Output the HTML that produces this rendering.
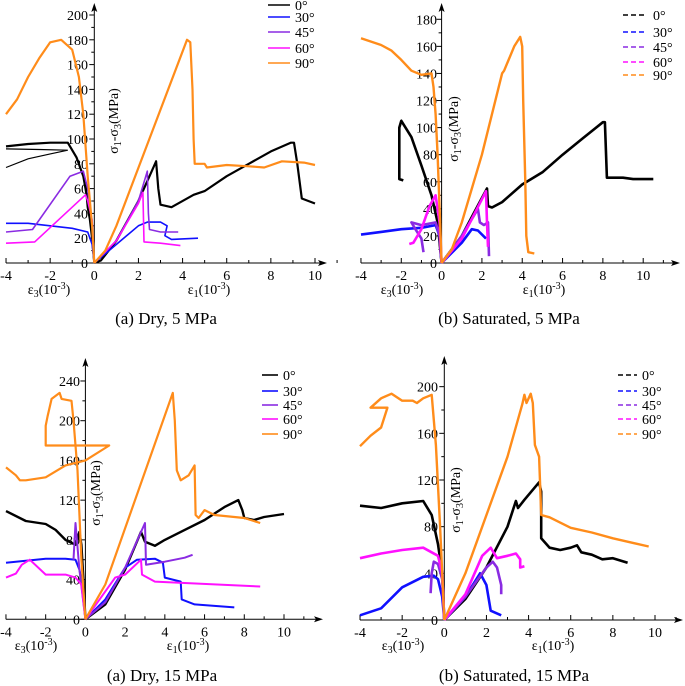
<!DOCTYPE html>
<html><head><meta charset="utf-8">
<style>
html,body{margin:0;padding:0;background:#fff;}
svg{display:block;font-family:"Liberation Serif",serif;}
</style></head>
<body>
<svg id="fig" width="685" height="686" viewBox="0 0 685 686" xmlns="http://www.w3.org/2000/svg"></svg>
<script>
// ---------- data (strain in 10^-3, stress in MPa) ----------
const angleLabels = ["0°","30°","45°","60°","90°"];
const colors = ["#000000","#1010ff","#8a2be2","#ff10ff","#ff8c1a"];
const xTicks = [-4,-2,0,2,4,6,8,10];
const yTicksA = [0,20,40,60,80,100,120,140,160,180,200];
const yTicksB = [0,20,40,60,80,100,120,140,160,180];
const yTicksC = [0,40,80,120,160,200,240];
const yTicksD = [0,40,80,120,160,200];

// Panel A: Dry 5 MPa
const aX0 = [0,0.3,1,2,2.7,2.8,2.9,3,3.5,4.5,5,6,7,8,8.9,9.05,9.2,9.4,10];
const aY0 = [0,2,18,50,78,82,60,47,45,55,58,70,80,90,97,97,80,52,48];
const aL0x = [0,-0.1,-0.2,-0.3,-0.35,-0.5,-0.8,-1.2,-2,-3,-4];
const aL0y = [0,20,35,45,55,70,85,97,97,96,94];
const aL0bx = [-4,-3,-2,-1.2,-2.5,-4];
const aL0by = [77,84,88,91,91.5,92];
const aX1 = [0,1,2,2.4,3,3.3,3.2,3.5,4.7];
const aY1 = [0,15,30,33,33,30,22,19,20];
const aL1x = [0,-0.1,-0.3,-1,-2,-3,-4];
const aL1y = [0,15,25,28,30,32,32];
const aX2 = [0,1,2,2.4,2.45,2.5,3,3.8];
const aY2 = [0,18,50,74,40,27,25,25];
const aL2x = [0,-0.1,-0.3,-0.5,-0.8,-1.1,-2.8,-4];
const aL2y = [0,30,60,74,72,70,27,25];
const aX3 = [0,1,2,2.2,2.25,3,3.9];
const aY3 = [0,18,48,57,17,16,14];
const aL3x = [0,-0.1,-0.3,-0.4,-2.7,-4];
const aL3y = [0,35,50,55,17,16];
const aX4 = [0,0.5,1,4.2,4.35,4.45,4.5,4.55,5,5.1,6,7,7.7,8.5,9.5,10];
const aY4 = [0,10,30,180,178,140,100,80,80,77,79,78,77,82,81,79];
const aL4x = [0,-0.1,-0.3,-0.5,-0.7,-1,-1.5,-2,-2.5,-3,-3.5,-4];
const aL4y = [0,30,70,120,150,172,180,178,165,150,132,120];

// Panel B: Saturated 5 MPa
const bX0 = [0,1,2,2.25,2.3,2.5,3,4,5,6,7,8,8.1,8.2,9,9.5,10.5];
const bY0 = [0,20,48,55,42,41,45,58,67,80,92,104,104,63,63,62,62];
const bL0x = [0,-0.2,-0.5,-1,-1.5,-2,-2.1,-2.1,-1.9];
const bL0y = [0,30,50,72,93,105,100,62,61];
const bX1 = [0,1,1.5,1.8,2.2];
const bY1 = [0,15,25,24,18];
const bL1x = [0,-0.1,-0.3,-1,-2,-3,-4];
const bL1y = [0,20,28,26,25,23,21];
const bX2 = [0,1,1.8,1.9,2.1,2.3,2.35];
const bY2 = [0,20,40,30,28,30,5];
const bL2x = [0,-0.1,-0.3,-1,-1.5,-1.3,-1,-0.9];
const bL2y = [0,20,30,28,30,25,18,8];
const bX3 = [0,1,2.2,2.25,2.3];
const bY3 = [0,18,53,30,12];
const bL3x = [0,-0.1,-0.3,-0.6,-1,-1.4,-1.6];
const bL3y = [0,30,50,42,25,15,14];
const bX4 = [0,0.5,1,2,3,3.1,3.6,3.9,4,4.05,4.15,4.2,4.3,4.6];
const bY4 = [0,10,30,80,140,142,160,167,160,120,60,20,8,7];
const bL4x = [0,-0.1,-0.2,-0.3,-0.4,-0.5,-1,-1.5,-2,-2.5,-3,-4];
const bL4y = [0,40,80,110,130,140,139,142,150,157,161,166];

// Panel C: Dry 15 MPa
const cX0 = [0,1,2,2.8,3,3.5,4,5,6,7,7.7,7.9,8,8.5,9,10];
const cY0 = [0,15,50,88,78,74,80,90,100,113,120,110,102,100,103,106];
const cL0x = [0,-0.1,-0.2,-0.3,-0.5,-1,-1.5,-2,-3,-4];
const cL0y = [0,40,75,88,75,80,90,96,99,109];
const cX1 = [0,1,2,2.6,3.5,3.9,4,4.8,4.85,5.5,7.5];
const cY1 = [0,20,52,60,61,57,42,38,20,15,12];
const cL1x = [0,-0.1,-0.3,-0.5,-1,-2,-3,-4];
const cL1y = [0,30,50,60,61,61,59,57];
const cX2 = [0,1,2,3,3.05,4,5,5.4];
const cY2 = [0,17,52,97,55,58,62,65];
const cL2x = [0,-0.3,-0.5,-0.6];
const cL2y = [0,50,97,60];
const cX3 = [0,1.5,2,2.8,2.85,3.5,8.8];
const cY3 = [0,42,45,60,45,38,33];
const cL3x = [0,-0.2,-0.5,-1,-2,-2.8,-3.2,-3.5,-4];
const cL3y = [0,35,42,45,45,60,55,46,42];
const cX4 = [0,1,4.4,4.5,4.6,4.8,5.2,5.5,5.55,5.7,6,6.5,8,8.8];
const cY4 = [0,35,228,200,150,140,145,155,105,102,110,105,102,97];
const cL4x = [0,-0.2,-0.4,-0.6,-0.7,-1.2,-1.3,-1.7,-1.9,-2,-2,1.2,0,-1,-2,-3,-3.3,-3.5,-4];
const cL4y = [0,60,150,200,220,222,228,222,205,195,175,175,160,155,143,140,140,145,153];

// Panel D: Saturated 15 MPa
const dX0 = [0,1,2,3,3.4,3.5,3.8,4.5,4.6,4.6,5,5.5,6,6.3,6.5,7,7.5,8,8.7];
const dY0 = [0,18,45,80,102,96,103,118,110,70,62,60,62,64,58,56,52,53,49];
const dL0x = [0,-0.1,-0.3,-0.6,-1,-2,-3,-4];
const dL0y = [0,40,65,90,102,100,96,98];
const dX1 = [0,1,1.7,2,2.2,2.7];
const dY1 = [0,20,40,30,8,4];
const dL1x = [0,-0.1,-0.3,-0.5,-1,-2,-3,-4];
const dL1y = [0,20,35,38,37,28,10,4];
const dX2 = [0,1,2,2.3,2.5,2.7,2.7];
const dY2 = [0,20,45,50,45,30,22];
const dL2x = [0,-0.1,-0.3,-0.5,-0.6,-0.65];
const dL2y = [0,35,48,50,40,23];
const dX3 = [0,1,1.8,2.2,2.5,3,3.4,3.6,3.6,3.8];
const dY3 = [0,22,55,62,53,55,57,52,45,46];
const dL3x = [0,-0.1,-0.3,-1,-2,-3,-4];
const dL3y = [0,40,55,62,60,57,53];
const dX4 = [0,1,3,3.7,3.8,3.9,4.1,4.2,4.3,4.5,4.6,5,6,7,8,9.7];
const dY4 = [0,40,140,185,193,186,194,186,150,140,90,88,79,75,70,63];
const dL4x = [0,-0.2,-0.4,-0.6,-1,-1.3,-1.5,-2,-2.5,-3,-3.5,-2.7,-3,-3.5,-4];
const dL4y = [0,80,150,193,190,186,188,188,194,190,182,182,165,158,149];

// ---------- drawing ----------
const NS = "http://www.w3.org/2000/svg";
const svg = document.getElementById("fig");
function mk(tag, attrs, parent, txt){
  const e = document.createElementNS(NS, tag);
  for (const k in attrs) e.setAttribute(k, attrs[k]);
  if (txt !== undefined) e.textContent = txt;
  (parent||svg).appendChild(e);
  return e;
}
const panels = [
  {key:"a", x0:94.3, ux:22.07, y0:263, uy:1.24, ticks:yTicksA, xEnd:327, yTop:3, ylabR:88,
   title:[118,121], e3:[49,294], e1:[209,294], cap:[166,324,"(a) Dry, 5 MPa"],
   leg:[268,290,295,[5,17,32,48,63]], lw:[2.2,1.6,1.6,1.6,2.2],
   series:[[aX0,aY0,aL0x,aL0y],[aX1,aY1,aL1x,aL1y],[aX2,aY2,aL2x,aL2y],[aX3,aY3,aL3x,aL3y],[aX4,aY4,aL4x,aL4y]], extra:[[0,aL0bx,aL0by]]},
  {key:"b", x0:441.6, ux:20.16, y0:263, uy:1.354, ticks:yTicksB, xEnd:680, yTop:3, ylabR:437,
   title:[458,129], e3:[402,294], e1:[544,294], cap:[509,324,"(b) Saturated, 5 MPa"],
   leg:[623,645,653,[15,32,47,62,75]], lw:[2.6,2.6,2.6,2.6,2.4],
   series:[[bX0,bY0,bL0x,bL0y],[bX1,bY1,bL1x,bL1y],[bX2,bY2,bL2x,bL2y],[bX3,bY3,bL3x,bL3y],[bX4,bY4,bL4x,bL4y]], extra:[]},
  {key:"c", x0:85.4, ux:19.86, y0:619.3, uy:0.993, ticks:yTicksC, xEnd:323, yTop:358, ylabR:80,
   title:[100,493], e3:[36,650], e1:[188,650], cap:[162,681,"(a) Dry, 15 MPa"],
   leg:[262,278,283,[375,391,405,419,434]], lw:[2.4,2,2,2,2.2],
   series:[[cX0,cY0,cL0x,cL0y],[cX1,cY1,cL1x,cL1y],[cX2,cY2,cL2x,cL2y],[cX3,cY3,cL3x,cL3y],[cX4,cY4,cL4x,cL4y]], extra:[]},
  {key:"d", x0:444.3, ux:21.07, y0:620, uy:1.1667, ticks:yTicksD, xEnd:683, yTop:356, ylabR:438,
   title:[460,500], e3:[403,650], e1:[553,650], cap:[514,681,"(b) Saturated, 15 MPa"],
   leg:[618,637,642,[375,391,405,419,434]], lw:[2.6,2.6,2.6,2.6,2.4],
   series:[[dX0,dY0,dL0x,dL0y],[dX1,dY1,dL1x,dL1y],[dX2,dY2,dL2x,dL2y],[dX3,dY3,dL3x,dL3y],[dX4,dY4,dL4x,dL4y]], extra:[]}
];
panels.forEach(p=>{
  const g = mk("g",{});
  
  
  const sx = v => p.x0 + v*p.ux;
  const sy = v => p.y0 - v*p.uy;
  const xL = sx(-4);
  // axes
  const ax = mk("line",{x1:xL,y1:p.y0,x2:p.xEnd-6,y2:p.y0,stroke:"#000","stroke-width":1},g);
  
  
  mk("path",{d:`M${p.xEnd},${p.y0} l-9,-3 l2,3 l-2,3 z`,fill:"#000"},g);
  const ay = mk("line",{x1:p.x0,y1:p.y0,x2:p.x0,y2:p.yTop+6,stroke:"#000","stroke-width":1},g);
  
  
  mk("path",{d:`M${p.x0},${p.yTop} l-3,9 l3,-2 l3,2 z`,fill:"#000"},g);
  for (let v=-4; v<=11; v++){
    const h = (v%2===0)?5:3;
    mk("line",{x1:sx(v),y1:p.y0,x2:sx(v),y2:p.y0-h,stroke:"#000","stroke-width":1},g);
  }
  xTicks.forEach(v=>{
    const t = mk("text",{x:sx(v),y:p.y0+17,"font-size":14,"text-anchor":"middle"},g,String(v));
    
    
  });
  p.ticks.forEach((v,i)=>{
    mk("line",{x1:p.x0,y1:sy(v),x2:p.x0-5,y2:sy(v),stroke:"#000","stroke-width":1},g);
    if (i>0){
      const mid=(v+p.ticks[i-1])/2;
      mk("line",{x1:p.x0,y1:sy(mid),x2:p.x0-3,y2:sy(mid),stroke:"#000","stroke-width":1},g);
    }
    const t = mk("text",{x:p.ylabR,y:sy(v)+5,"font-size":14,"text-anchor":"end"},g,String(v));
    
    
  });
  // series
  p.series.forEach((s,i)=>{
    [[s[0],s[1],'axial'],[s[2],s[3],'lateral']].forEach(pair=>{
      const pts = pair[0].map((x,j)=>sx(x).toFixed(1)+","+sy(pair[1][j]).toFixed(1)).join(" ");
      const pl = mk("polyline",{points:pts,fill:"none",stroke:colors[i],"stroke-width":p.lw[i],"stroke-linejoin":"round"},g);
      
      
    });
  });
  p.extra.forEach(e=>{
    const pts = e[1].map((x,j)=>sx(x).toFixed(1)+","+sy(e[2][j]).toFixed(1)).join(" ");
    const pl = mk("polyline",{points:pts,fill:"none",stroke:colors[e[0]],"stroke-width":1.2},g);
    
    
  });
  // y title
  const yt = mk("text",{x:p.title[0],y:p.title[1],"font-size":14,"text-anchor":"middle",transform:`rotate(-90 ${p.title[0]} ${p.title[1]})`},g);
  
  
  yt.innerHTML = 'σ<tspan font-size="10" dy="3">1</tspan><tspan dy="-3">-σ</tspan><tspan font-size="10" dy="3">3</tspan><tspan dy="-3">(MPa)</tspan>';
  const e3 = mk("text",{x:p.e3[0],y:p.e3[1],"font-size":14,"text-anchor":"middle"},g);
  
  
  e3.innerHTML = 'ε<tspan font-size="10" dy="3">3</tspan><tspan dy="-3">(10</tspan><tspan font-size="10" dy="-5">-3</tspan><tspan dy="5">)</tspan>';
  const e1 = mk("text",{x:p.e1[0],y:p.e1[1],"font-size":14,"text-anchor":"middle"},g);
  
  
  e1.innerHTML = 'ε<tspan font-size="10" dy="3">1</tspan><tspan dy="-3">(10</tspan><tspan font-size="10" dy="-5">-3</tspan><tspan dy="5">)</tspan>';
  const cap = mk("text",{x:p.cap[0],y:p.cap[1],"font-size":17,"text-anchor":"middle"},g,p.cap[2]);
  
  
  // legend
  const dashed = (p.key==="b"||p.key==="d");
  angleLabels.forEach((lab,i)=>{
    const yy = p.leg[3][i];
    const lg = mk("g",{},g);
    
    
    const ln = mk("line",{x1:p.leg[0],y1:yy,x2:p.leg[1],y2:yy,stroke:colors[i],"stroke-width":1.6},lg);
    if (dashed) ln.setAttribute("stroke-dasharray","5,3");
    mk("text",{x:p.leg[2],y:yy+5,"font-size":14},lg,lab);
  });
});
</script>
</body></html>
